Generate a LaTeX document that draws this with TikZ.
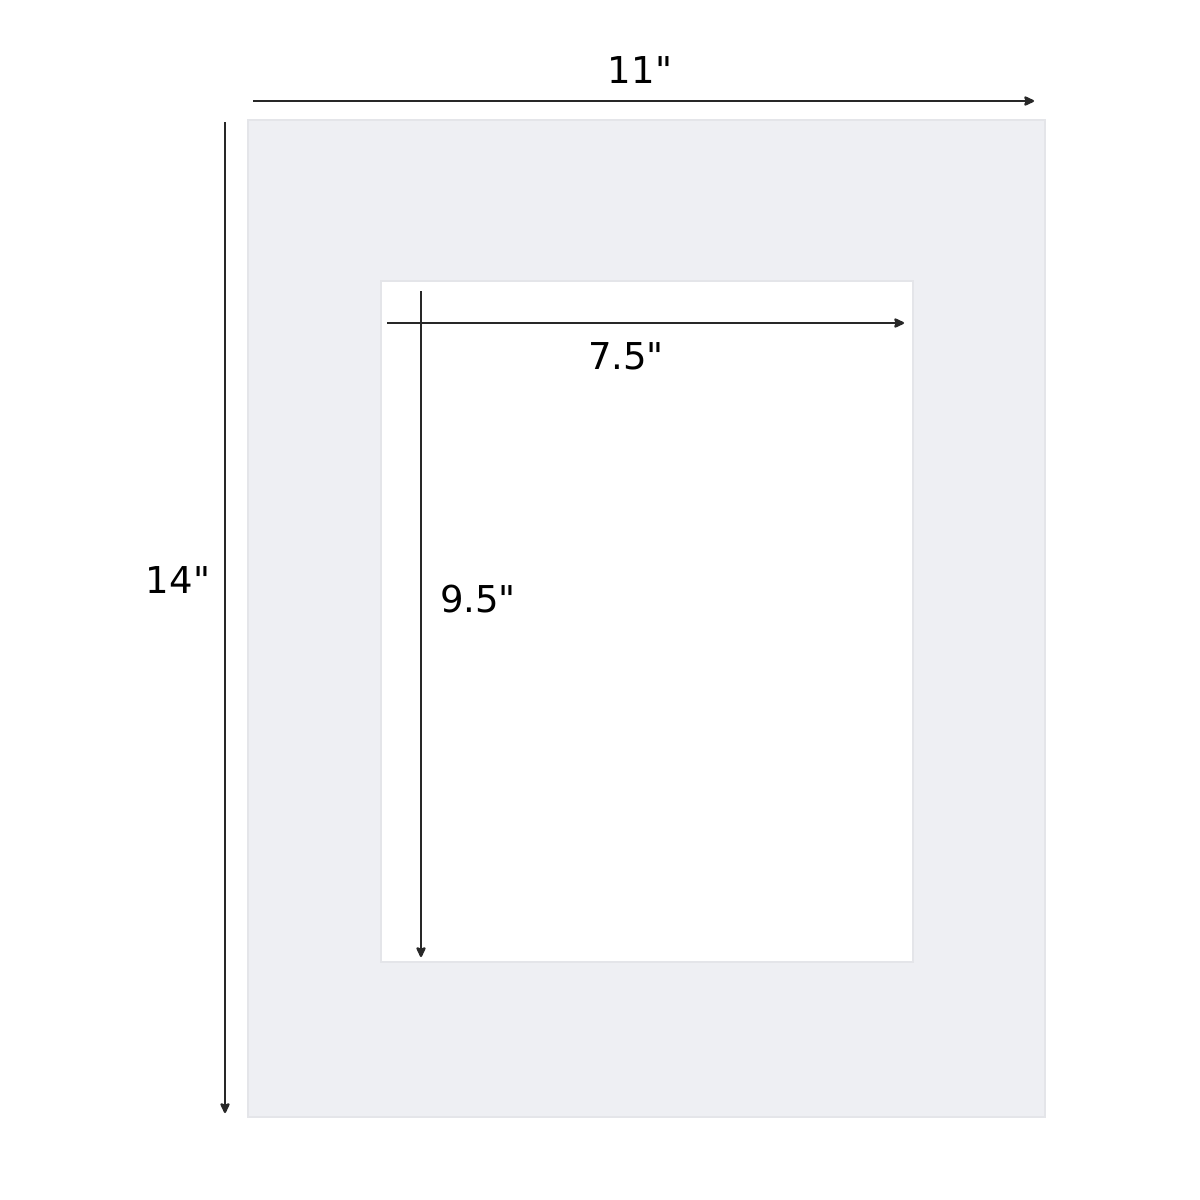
\documentclass[tikz,border=0pt]{standalone}
\usepackage{fontspec}
\newfontfamily\dimfont{DejaVu Sans}
\usetikzlibrary{arrows.meta}
\definecolor{matgray}{RGB}{238,239,243}
\definecolor{matedge}{RGB}{228,229,233}
\definecolor{dimline}{RGB}{40,40,40}
\begin{document}
\begin{tikzpicture}[x=0.5pt,y=-0.5pt,
  dim/.style={draw=dimline,line width=1.1pt,-{Stealth[length=6pt,width=5.5pt,inset=1pt,round]}},
  lbl/.style={font=\dimfont\fontsize{18.5}{22}\selectfont,text=black,inner sep=0pt}]
\useasboundingbox (0,0) rectangle (1200,1200);
\fill[white] (0,0) rectangle (1200,1200);
% mat
\fill[matgray,draw=matedge,line width=0.6pt] (248,120) rectangle (1045,1117);
% opening
\fill[white,draw=matedge,line width=0.8pt] (381,281) rectangle (913,962);
% outer dimensions
\coordinate (tA) at (253,101);
\coordinate (tB) at (1034,101);
\draw[dim] (tA) -- (tB);
\coordinate (lA) at (225,122);
\coordinate (lB) at (225,1113);
\draw[dim] (lA) -- (lB);
% inner dimensions
\coordinate (hA) at (387,323);
\coordinate (hB) at (904,323);
\draw[dim] (hA) -- (hB);
\coordinate (vA) at (421,291);
\coordinate (vB) at (421,957);
\draw[dim] (vA) -- (vB);
% labels
\node[lbl] (l11) at (640,70) {11"};
\node[lbl] (l14) at (178,580) {14"};
\node[lbl] (l75) at (626,356) {7.5"};
\node[lbl] (l95) at (478,599) {9.5"};
\end{tikzpicture}
\end{document}
